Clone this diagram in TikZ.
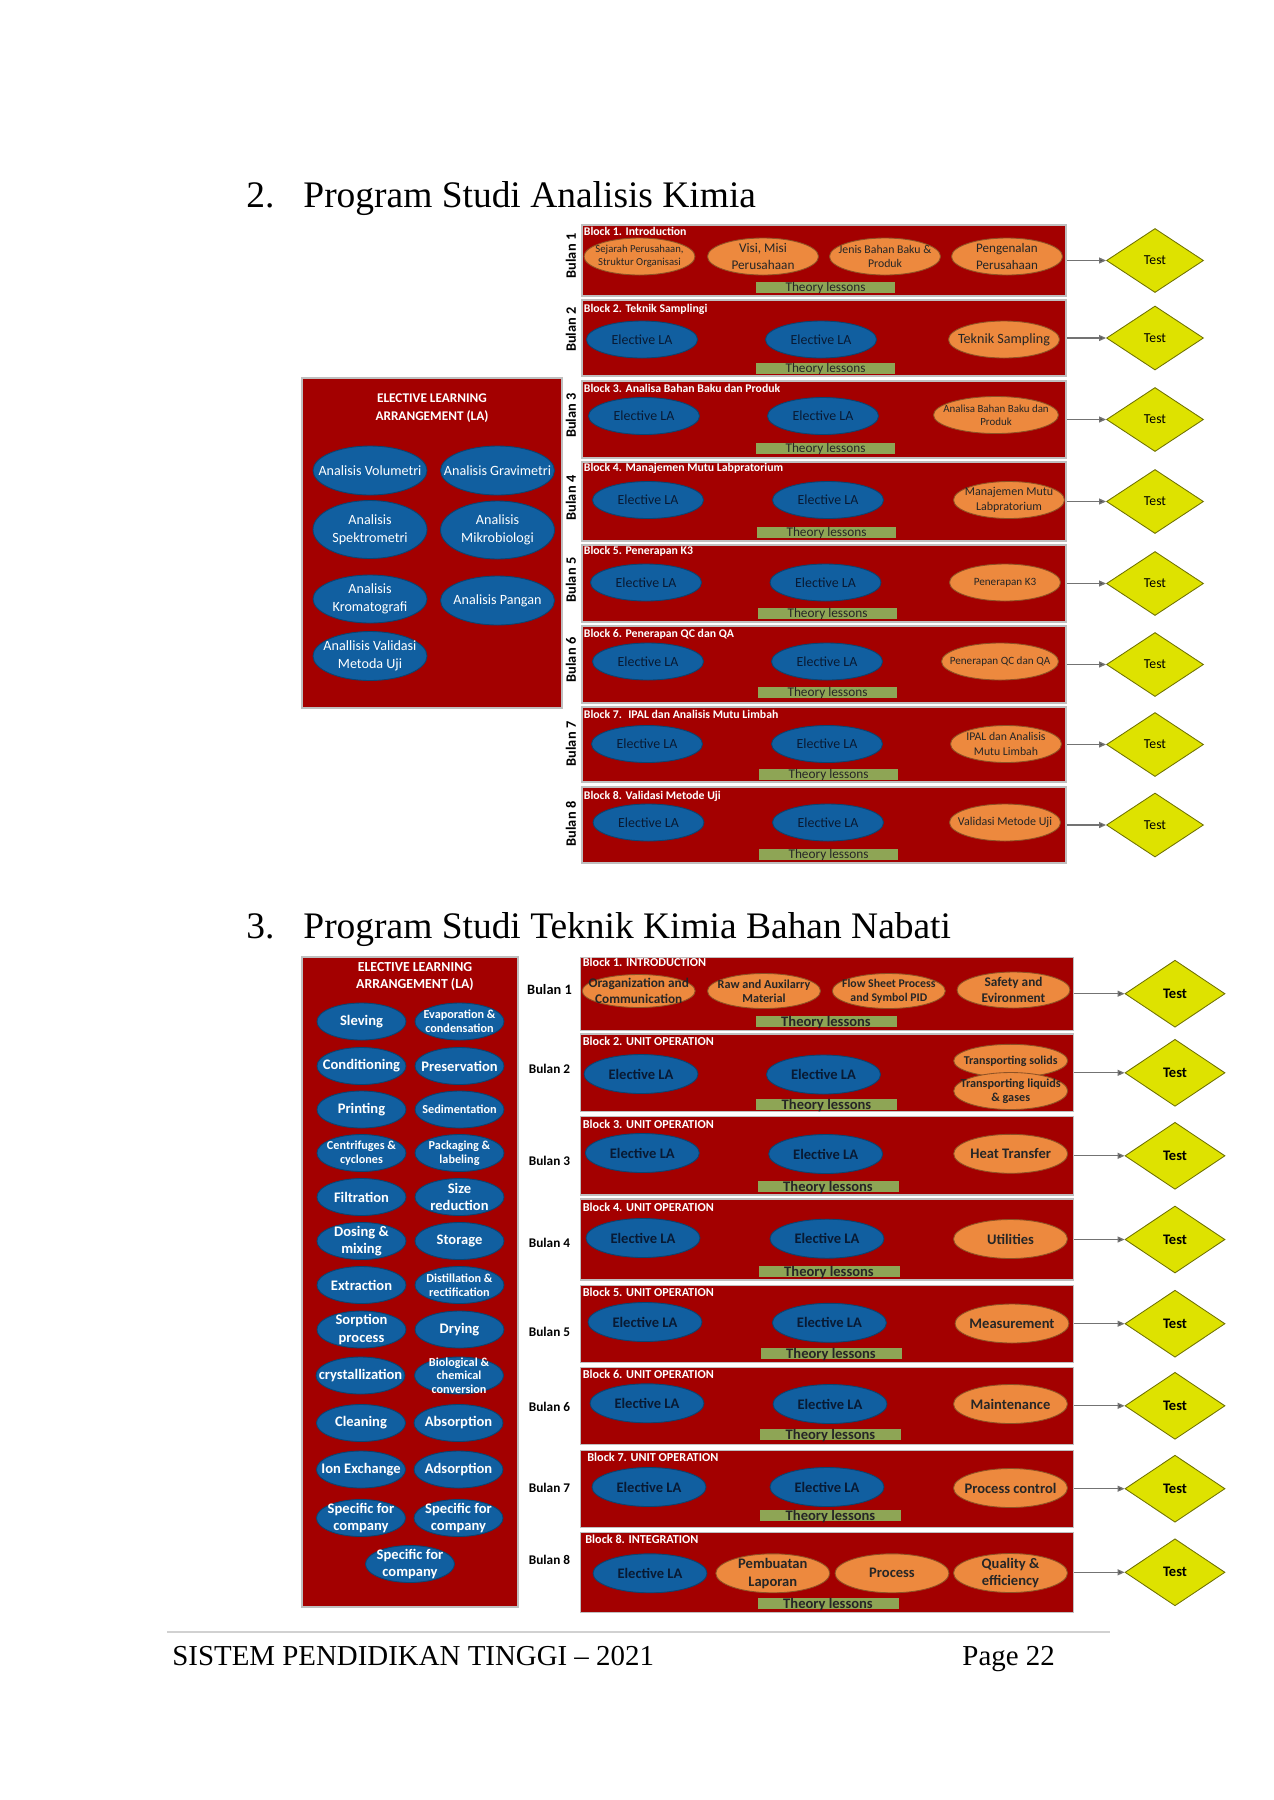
\documentclass[tikz,border=0pt]{standalone}
\usepackage{fontspec}
\setmainfont{Carlito}
\newfontfamily\headfont{Liberation Serif}
\usepackage{tikz}
\usepackage{xcolor}
\usetikzlibrary{shapes.geometric, arrows.meta}

\definecolor{blockred}{RGB}{163,0,0}
\definecolor{ellblue}{RGB}{17,95,160}
\definecolor{ellorange}{RGB}{237,137,62}
\definecolor{testyellow}{RGB}{222,226,0}
\definecolor{barolive}{RGB}{142,165,85}
\definecolor{navytext}{RGB}{8,26,52}

\newlength{\dpx}
\setlength{\dpx}{0.4672pt}
\newcommand{\tsz}[2]{\fontsize{#1pt}{#2pt}\selectfont}
\newcommand{\fla}{\tsz{6.6}{8.5}}
\newcommand{\fel}{\tsz{6.5}{7.5}}
\newcommand{\fbig}{\bfseries\tsz{6.8}{8.2}}
\newcommand{\fsml}{\bfseries\tsz{5.7}{6.4}}

\begin{document}
\begin{tikzpicture}[x=0.4672pt, y=-0.4672pt,
    heading/.style={anchor=base west, inner sep=0, font=\headfont\tsz{17.5}{21}},
    footer/.style={anchor=base west, inner sep=0, font=\headfont\tsz{13.5}{16}},
    blockbox/.style={rectangle, fill=blockred, draw=black!25, line width=0.5pt, inner sep=0},
    blk2/.style={blockbox, minimum width=484\dpx},
    blk3/.style={blockbox, minimum width=493\dpx},
    blocktitle/.style={anchor=base west, inner sep=0, text=white, font=\bfseries\tsz{#1}{7}},
    latitle/.style 2 args={align=center, inner sep=0, text=white, font=\bfseries\tsz{#1}{#2}},
    month/.style={inner sep=0, text=black, font=\bfseries\tsz{#1}{8}},
    la/.style 2 args={ellipse, fill=ellblue, draw=ellblue!70!black, line width=0.4pt, inner sep=0,
        label={[align=center, inner sep=0, text=white, font=#1]center:#2}},
    elect/.style 2 args={ellipse, fill=ellblue, draw=ellblue!70!black, line width=0.4pt, inner sep=0,
        label={[align=center, inner sep=0, text=navytext, font=#1]center:#2}},
    orng/.style 2 args={ellipse, fill=ellorange, draw=ellorange!60!black, line width=0.4pt, inner sep=0,
        label={[align=center, inner sep=0, text=black!85, font=#1]center:#2}},
    szl/.style={minimum width=89\dpx, minimum height=37\dpx},
    sz2/.style={minimum width=111\dpx, minimum height=37\dpx},
    sz3/.style={minimum width=114\dpx, minimum height=39\dpx},
    theory/.style={rectangle, fill=barolive, inner sep=0, text depth=0pt, text=black!85},
    th2/.style={theory, minimum width=139\dpx, minimum height=11\dpx, text height=8.5\dpx, font=\tsz{6.2}{7}},
    th3/.style={theory, minimum width=141\dpx, minimum height=10.7\dpx, text height=9.4\dpx, font=\bfseries\tsz{6.8}{7.5}},
    testd/.style={diamond, fill=testyellow, draw=testyellow!50!black, line width=0.4pt, inner sep=0, text=black},
    t2/.style={testd, minimum width=97\dpx, minimum height=64\dpx, font=\tsz{6.4}{7}},
    t3/.style={testd, minimum width=100\dpx, minimum height=67\dpx, font=\bfseries\tsz{6.8}{7.5}},
    conn/.style={draw=black!55, line width=0.6pt, -{Triangle[length=3.3pt, width=2.8pt, fill=black!70]}}]

\fill[white] (0,0) rectangle (1274,1800);
\useasboundingbox (0,0) rectangle (1274,1800);

% 2. Program Studi Analisis Kimia
\node[heading] (h2_num) at (246,207) {2.};
\node[heading] (h2_title) at (303,207) {Program Studi Analisis Kimia};

\node[blockbox, minimum width=260\dpx, minimum height=330\dpx] (s2la) at (432,543) {};
\node[latitle={6.2}{8.3}] (s2la_t) at (432,408) {ELECTIVE LEARNING\\ARRANGEMENT (LA)};
\node[la={\fla}{Analisis Volumetri}, minimum width=114\dpx, minimum height=49\dpx] (s2la_1) at (370,470.5) {};
\node[la={\fla}{Analisis Gravimetri}, minimum width=114\dpx, minimum height=49\dpx] (s2la_2) at (497.5,470.5) {};
\node[la={\fla}{Analisis\\Spektrometri}, minimum width=114\dpx, minimum height=58\dpx] (s2la_3) at (370,529.5) {};
\node[la={\fla}{Analisis\\Mikrobiologi}, minimum width=114\dpx, minimum height=58\dpx] (s2la_4) at (497.5,530) {};
\node[la={\fla}{Analisis\\Kromatografi}, minimum width=114\dpx, minimum height=48\dpx] (s2la_5) at (370,599) {};
\node[la={\fla}{Analisis Pangan}, minimum width=114\dpx, minimum height=49\dpx] (s2la_6) at (497.5,600.5) {};
\node[la={\fla}{Anallisis Validasi\\Metoda Uji}, minimum width=114\dpx, minimum height=49\dpx] (s2la_7) at (370,656) {};

% block 1
\node[blk2, minimum height=71\dpx] (s2b_1) at (824,260.5) {};
\node[blocktitle=5.5] (s2h_1) at ([shift={(2,11)}]s2b_1.north west) {Block 1. Introduction};
\node[month=6.7, rotate=90] (s2m_1) at (571,256) {Bulan 1};
\node[orng={\tsz{5}{6}}{Sejarah Perusahaan,\\Struktur Organisasi}, sz2] (s2o_1a) at (639.5,256.5) {};
\node[orng={\tsz{6.2}{7.5}}{Visi, Misi\\Perusahaan}, sz2] (s2o_1b) at (763,256.5) {};
\node[orng={\tsz{5.5}{6.5}}{Jenis Bahan Baku \&\\Produk}, sz2] (s2o_1c) at (885,256.5) {};
\node[orng={\tsz{6.1}{7.5}}{Pengenalan\\Perusahaan}, sz2] (s2o_1d) at (1007,256.5) {};
\node[th2] (s2l_1) at (825.5,287.5) {Theory lessons};
\node[t2] (s2t_1) at (1155,260.5) {Test};

% block 2
\node[blk2, minimum height=76\dpx] (s2b_2) at (824,338) {};
\node[blocktitle=5.5] (s2h_2) at ([shift={(2,13)}]s2b_2.north west) {Block 2. Teknik Samplingi};
\node[month=6.7, rotate=90] (s2m_2) at (571,329.5) {Bulan 2};
\node[elect={\fel}{Elective LA}, sz2] (s2e_2) at (642,339.5) {};
\node[elect={\fel}{Elective LA}, sz2] (s2f_2) at (821,339.5) {};
\node[orng={\tsz{6.6}{7.5}}{Teknik Sampling}, sz2] (s2o_2) at (1004,339.5) {};
\node[th2] (s2l_2) at (825.5,368.5) {Theory lessons};
\node[t2] (s2t_2) at (1155,338) {Test};

% block 3
\node[blk2, minimum height=77\dpx] (s2b_3) at (824,419.5) {};
\node[blocktitle=5.5] (s2h_3) at ([shift={(2,12)}]s2b_3.north west) {Block 3. Analisa Bahan Baku dan Produk};
\node[month=6.7, rotate=90] (s2m_3) at (571,415.5) {Bulan 3};
\node[elect={\fel}{Elective LA}, sz2] (s2e_3) at (644,416) {};
\node[elect={\fel}{Elective LA}, sz2] (s2f_3) at (823,416) {};
\node[orng={\tsz{5.1}{6.2}}{Analisa Bahan Baku dan\\Produk}, sz2, minimum width=125\dpx] (s2o_3) at (996,415) {};
\node[th2] (s2l_3) at (825.5,448) {Theory lessons};
\node[t2] (s2t_3) at (1155,419.5) {Test};

% block 4
\node[blk2, minimum height=79\dpx] (s2b_4) at (824,501.5) {};
\node[blocktitle=5.5] (s2h_4) at ([shift={(2,10)}]s2b_4.north west) {Block 4. Manajemen Mutu Labpratorium};
\node[month=6.7, rotate=90] (s2m_4) at (571,498) {Bulan 4};
\node[elect={\fel}{Elective LA}, sz2] (s2e_4) at (648,500) {};
\node[elect={\fel}{Elective LA}, sz2] (s2f_4) at (828,500) {};
\node[orng={\tsz{5.6}{7}}{Manajemen Mutu\\Labpratorium}, sz2] (s2o_4) at (1009,500) {};
\node[th2] (s2l_4) at (826.5,532) {Theory lessons};
\node[t2] (s2t_4) at (1155,501.5) {Test};

% block 5
\node[blk2, minimum height=77\dpx] (s2b_5) at (824,583.5) {};
\node[blocktitle=5.5] (s2h_5) at ([shift={(2,10.5)}]s2b_5.north west) {Block 5. Penerapan K3};
\node[month=6.7, rotate=90] (s2m_5) at (571,580) {Bulan 5};
\node[elect={\fel}{Elective LA}, sz2] (s2e_5) at (646,582.5) {};
\node[elect={\fel}{Elective LA}, sz2] (s2f_5) at (825.5,582.5) {};
\node[orng={\tsz{5.2}{6.5}}{Penerapan K3}, sz2] (s2o_5) at (1005,582.5) {};
\node[th2] (s2l_5) at (827.5,613.5) {Theory lessons};
\node[t2] (s2t_5) at (1155,583.5) {Test};

% block 6
\node[blk2, minimum height=77\dpx] (s2b_6) at (824,664.5) {};
\node[blocktitle=5.5] (s2h_6) at ([shift={(2,12)}]s2b_6.north west) {Block 6. Penerapan QC dan QA};
\node[month=6.7, rotate=90] (s2m_6) at (571,660) {Bulan 6};
\node[elect={\fel}{Elective LA}, sz2] (s2e_6) at (648,661.5) {};
\node[elect={\fel}{Elective LA}, sz2] (s2f_6) at (827,661.5) {};
\node[orng={\tsz{5.2}{6.5}}{Penerapan QC dan QA}, sz2, minimum width=117\dpx] (s2o_6) at (1000,661.5) {};
\node[th2] (s2l_6) at (827.5,692.5) {Theory lessons};
\node[t2] (s2t_6) at (1155,664.5) {Test};

% block 7
\node[blk2, minimum height=75\dpx] (s2b_7) at (824,744.5) {};
\node[blocktitle=5.5] (s2h_7) at ([shift={(2,12)}]s2b_7.north west) {Block 7.~ IPAL dan Analisis Mutu Limbah};
\node[month=6.7, rotate=90] (s2m_7) at (571,744) {Bulan 7};
\node[elect={\fel}{Elective LA}, sz2] (s2e_7) at (647,744) {};
\node[elect={\fel}{Elective LA}, sz2] (s2f_7) at (827,744) {};
\node[orng={\tsz{5.5}{7}}{IPAL dan Analisis\\Mutu Limbah}, sz2] (s2o_7) at (1006,744) {};
\node[th2] (s2l_7) at (828.5,774.5) {Theory lessons};
\node[t2] (s2t_7) at (1155,744.5) {Test};

% block 8
\node[blk2, minimum height=76\dpx] (s2b_8) at (824,825) {};
\node[blocktitle=5.5] (s2h_8) at ([shift={(2,13)}]s2b_8.north west) {Block 8. Validasi Metode Uji};
\node[month=6.7, rotate=90] (s2m_8) at (571,824) {Bulan 8};
\node[elect={\fel}{Elective LA}, sz2] (s2e_8) at (648.5,822.5) {};
\node[elect={\fel}{Elective LA}, sz2] (s2f_8) at (828,822.5) {};
\node[orng={\tsz{5.6}{6.5}}{Validasi Metode Uji}, sz2] (s2o_8) at (1005,822.5) {};
\node[th2] (s2l_8) at (828.5,854) {Theory lessons};
\node[t2] (s2t_8) at (1155,825) {Test};

\path[conn]
    (s2b_1) edge (s2t_1)
    (s2b_2) edge (s2t_2)
    (s2b_3) edge (s2t_3)
    (s2b_4) edge (s2t_4)
    (s2b_5) edge (s2t_5)
    (s2b_6) edge (s2t_6)
    (s2b_7) edge (s2t_7)
    (s2b_8) edge (s2t_8);

% 3. Program Studi Teknik Kimia Bahan Nabati
\node[heading] (h3_num) at (246,938) {3.};
\node[heading] (h3_title) at (303,938) {Program Studi Teknik Kimia Bahan Nabati};

\node[blockbox, minimum width=216\dpx, minimum height=650\dpx] (s3la) at (410,1282) {};
\node[latitle={6.45}{7.5}] (s3la_t) at (415,976.5) {ELECTIVE LEARNING\\ARRANGEMENT (LA)};
\node[la={\fbig}{Sleving}, szl] (s3la_1) at (361.5,1021.5) {};
\node[la={\fsml}{Evaporation \&\\condensation}, szl] (s3la_2) at (459.5,1021.5) {};
\node[la={\fbig}{Conditioning}, szl] (s3la_3) at (361.5,1066) {};
\node[la={\fbig}{Preservation}, szl] (s3la_4) at (459.5,1066) {};
\node[la={\fbig}{Printing}, szl] (s3la_5) at (361.5,1109.5) {};
\node[la={\fsml}{Sedimentation}, szl] (s3la_6) at (459.5,1109.5) {};
\node[la={\fsml}{Centrifuges \&\\cyclones}, szl] (s3la_7) at (361.5,1153) {};
\node[la={\fsml}{Packaging \&\\labeling}, szl] (s3la_8) at (459.5,1153) {};
\node[la={\fbig}{Filtration}, szl] (s3la_9) at (361.5,1197) {};
\node[la={\fbig}{Size\\reduction}, szl] (s3la_10) at (459.5,1197) {};
\node[la={\fbig}{Dosing \&\\mixing}, szl] (s3la_11) at (361.5,1241) {};
\node[la={\fbig}{Storage}, szl] (s3la_12) at (459.5,1241) {};
\node[la={\fbig}{Extraction}, szl] (s3la_13) at (361.5,1285) {};
\node[la={\fsml}{Distillation \&\\rectification}, szl] (s3la_14) at (459.5,1285) {};
\node[la={\fbig}{Sorption\\process}, szl] (s3la_15) at (361.5,1329.5) {};
\node[la={\fbig}{Drying}, szl] (s3la_16) at (459.5,1329.5) {};
\node[la={\fbig}{crystallization}, szl] (s3la_17) at (360.5,1375.5) {};
\node[la={\fsml}{Biological \&\\chemical\\conversion}, szl] (s3la_18) at (459,1375.5) {};
\node[la={\fbig}{Cleaning}, szl] (s3la_19) at (361,1423) {};
\node[la={\fbig}{Absorption}, szl] (s3la_20) at (458.5,1423) {};
\node[la={\fbig}{Ion Exchange}, szl] (s3la_21) at (361,1469.5) {};
\node[la={\fbig}{Adsorption}, szl] (s3la_22) at (458.5,1469.5) {};
\node[la={\fbig}{Specific for\\company}, szl] (s3la_23) at (361,1518) {};
\node[la={\fbig}{Specific for\\company}, szl] (s3la_24) at (458.5,1518) {};
\node[la={\fbig}{Specific for\\company}, szl] (s3la_25) at (410,1564) {};

% block 1
\node[blk3, minimum height=72.7\dpx] (s3b_1) at (827,993.7) {};
\node[blocktitle=5.7] (s3h_1) at ([shift={(2.5,10)}]s3b_1.north west) {Block 1. INTRODUCTION};
\node[month=6.7] (s3m_1) at (549.5,990) {Bulan 1};
\node[orng={\bfseries\tsz{6.2}{7.3}}{Oraganization and\\Communication}, minimum width=113\dpx, minimum height=33\dpx] (s3o_1a) at (638.7,991) {};
\node[orng={\bfseries\tsz{5.7}{6.6}}{Raw and Auxilarry\\Material}, minimum width=113\dpx, minimum height=35\dpx] (s3o_1b) at (764,991) {};
\node[orng={\bfseries\tsz{5.5}{6.6}}{Flow Sheet Process\\and Symbol PID}, minimum width=113\dpx, minimum height=35\dpx] (s3o_1c) at (888.8,991) {};
\node[orng={\bfseries\tsz{6.2}{7.3}}{Safety and\\Evironment}, minimum width=113\dpx, minimum height=36\dpx] (s3o_1d) at (1013.5,990) {};
\node[th3] (s3l_1) at (826,1021.3) {Theory lessons};
\node[t3] (s3t_1) at (1175,993.7) {Test};

% block 2
\node[blk3, minimum height=77.7\dpx] (s3b_2) at (827,1072.8) {};
\node[blocktitle=5.7] (s3h_2) at ([shift={(2.5,12.5)}]s3b_2.north west) {Block 2. UNIT OPERATION};
\node[month=6.2] (s3m_2) at (549.5,1069.3) {Bulan 2};
\node[elect={\fbig}{Elective LA}, sz3] (s3e_2) at (641,1074) {};
\node[elect={\fbig}{Elective LA}, sz3] (s3f_2) at (823.5,1074.5) {};
\node[orng={\bfseries\tsz{5.6}{6.6}}{Transporting solids}, minimum width=114\dpx, minimum height=33\dpx] (s3o_2a) at (1010.7,1060.8) {};
\node[orng={\bfseries\tsz{5.7}{6.7}}{Transporting liquids\\\& gases}, minimum width=114\dpx, minimum height=37\dpx] (s3o_2b) at (1010.7,1091) {};
\node[th3] (s3l_2) at (826.5,1104.7) {Theory lessons};
\node[t3] (s3t_2) at (1175,1072.8) {Test};

% block 3
\node[blk3, minimum height=78.3\dpx] (s3b_3) at (827,1155.8) {};
\node[blocktitle=5.7] (s3h_3) at ([shift={(2.5,12.3)}]s3b_3.north west) {Block 3. UNIT OPERATION};
\node[month=6.2] (s3m_3) at (549.5,1160.7) {Bulan 3};
\node[elect={\fbig}{Elective LA}, sz3] (s3e_3) at (642.3,1153) {};
\node[elect={\fbig}{Elective LA}, sz3] (s3f_3) at (825.7,1154) {};
\node[orng={\fbig}{Heat Transfer}, sz3] (s3o_3) at (1010.7,1153.8) {};
\node[th3] (s3l_3) at (828,1186.3) {Theory lessons};
\node[t3] (s3t_3) at (1175,1155.8) {Test};

% block 4
\node[blk3, minimum height=81\dpx] (s3b_4) at (827,1239.5) {};
\node[blocktitle=5.7] (s3h_4) at ([shift={(2.5,13)}]s3b_4.north west) {Block 4. UNIT OPERATION};
\node[month=6.2] (s3m_4) at (549.5,1243.3) {Bulan 4};
\node[elect={\fbig}{Elective LA}, sz3] (s3e_4) at (643,1238) {};
\node[elect={\fbig}{Elective LA}, sz3] (s3f_4) at (827,1238.7) {};
\node[orng={\fbig}{Utilities}, sz3] (s3o_4) at (1010.5,1239) {};
\node[th3] (s3l_4) at (829,1271.3) {Theory lessons};
\node[t3] (s3t_4) at (1175,1239.5) {Test};

% block 5
\node[blk3, minimum height=77.3\dpx] (s3b_5) at (827,1323.7) {};
\node[blocktitle=5.7] (s3h_5) at ([shift={(2.5,12)}]s3b_5.north west) {Block 5. UNIT OPERATION};
\node[month=6.2] (s3m_5) at (549.5,1331.7) {Bulan 5};
\node[elect={\fbig}{Elective LA}, sz3] (s3e_5) at (645,1322) {};
\node[elect={\fbig}{Elective LA}, sz3] (s3f_5) at (829.4,1322.8) {};
\node[orng={\fbig}{Measurement}, sz3] (s3o_5) at (1012,1323.5) {};
\node[th3] (s3l_5) at (831,1353.7) {Theory lessons};
\node[t3] (s3t_5) at (1175,1323.7) {Test};

% block 6
\node[blk3, minimum height=77\dpx] (s3b_6) at (827,1405.8) {};
\node[blocktitle=5.7] (s3h_6) at ([shift={(2.5,11.7)}]s3b_6.north west) {Block 6. UNIT OPERATION};
\node[month=6.2] (s3m_6) at (549.5,1406.7) {Bulan 6};
\node[elect={\fbig}{Elective LA}, sz3] (s3e_6) at (647,1403.3) {};
\node[elect={\fbig}{Elective LA}, sz3] (s3f_6) at (830,1404) {};
\node[orng={\fbig}{Maintenance}, sz3] (s3o_6) at (1010.5,1404) {};
\node[th3] (s3l_6) at (830.5,1434.5) {Theory lessons};
\node[t3] (s3t_6) at (1175,1405.8) {Test};

% block 7
\node[blk3, minimum height=77.3\dpx] (s3b_7) at (827,1488.7) {};
\node[blocktitle=5.7] (s3h_7) at ([shift={(7,12)}]s3b_7.north west) {Block 7. UNIT OPERATION};
\node[month=6.2] (s3m_7) at (549.5,1488.3) {Bulan 7};
\node[elect={\fbig}{Elective LA}, sz3] (s3e_7) at (649,1487) {};
\node[elect={\fbig}{Elective LA}, sz3] (s3f_7) at (827,1487) {};
\node[orng={\fbig}{Process control}, sz3] (s3o_7) at (1010.5,1488) {};
\node[th3] (s3l_7) at (830.5,1515.3) {Theory lessons};
\node[t3] (s3t_7) at (1175,1488.7) {Test};

% block 8
\node[blk3, minimum height=80\dpx] (s3b_8) at (827,1572.3) {};
\node[blocktitle=5.7] (s3h_8) at ([shift={(5,11.7)}]s3b_8.north west) {Block 8. INTEGRATION};
\node[month=6.2] (s3m_8) at (549.5,1560) {Bulan 8};
\node[elect={\fbig}{Elective LA}, sz3] (s3e_8) at (650,1573.3) {};
\node[orng={\fbig}{Pembuatan\\Laporan}, sz3] (s3o_8a) at (772.8,1573.3) {};
\node[orng={\fbig}{Process}, sz3] (s3o_8b) at (892,1573.3) {};
\node[orng={\fbig}{Quality \&\\efficiency}, sz3] (s3o_8c) at (1010.5,1573) {};
\node[th3] (s3l_8) at (828,1603.7) {Theory lessons};
\node[t3] (s3t_8) at (1175,1572.3) {Test};

\path[conn]
    (s3b_1) edge (s3t_1)
    (s3b_2) edge (s3t_2)
    (s3b_3) edge (s3t_3)
    (s3b_4) edge (s3t_4)
    (s3b_5) edge (s3t_5)
    (s3b_6) edge (s3t_6)
    (s3b_7) edge (s3t_7)
    (s3b_8) edge (s3t_8);

% footer
\draw[draw=black!18, line width=1.4\dpx] (167,1632) -- (1110,1632);
\node[footer] (ft_left) at (172,1665) {SISTEM PENDIDIKAN TINGGI – 2021};
\node[footer] (ft_right) at (962,1665) {Page 22};
\end{tikzpicture}
\end{document}
